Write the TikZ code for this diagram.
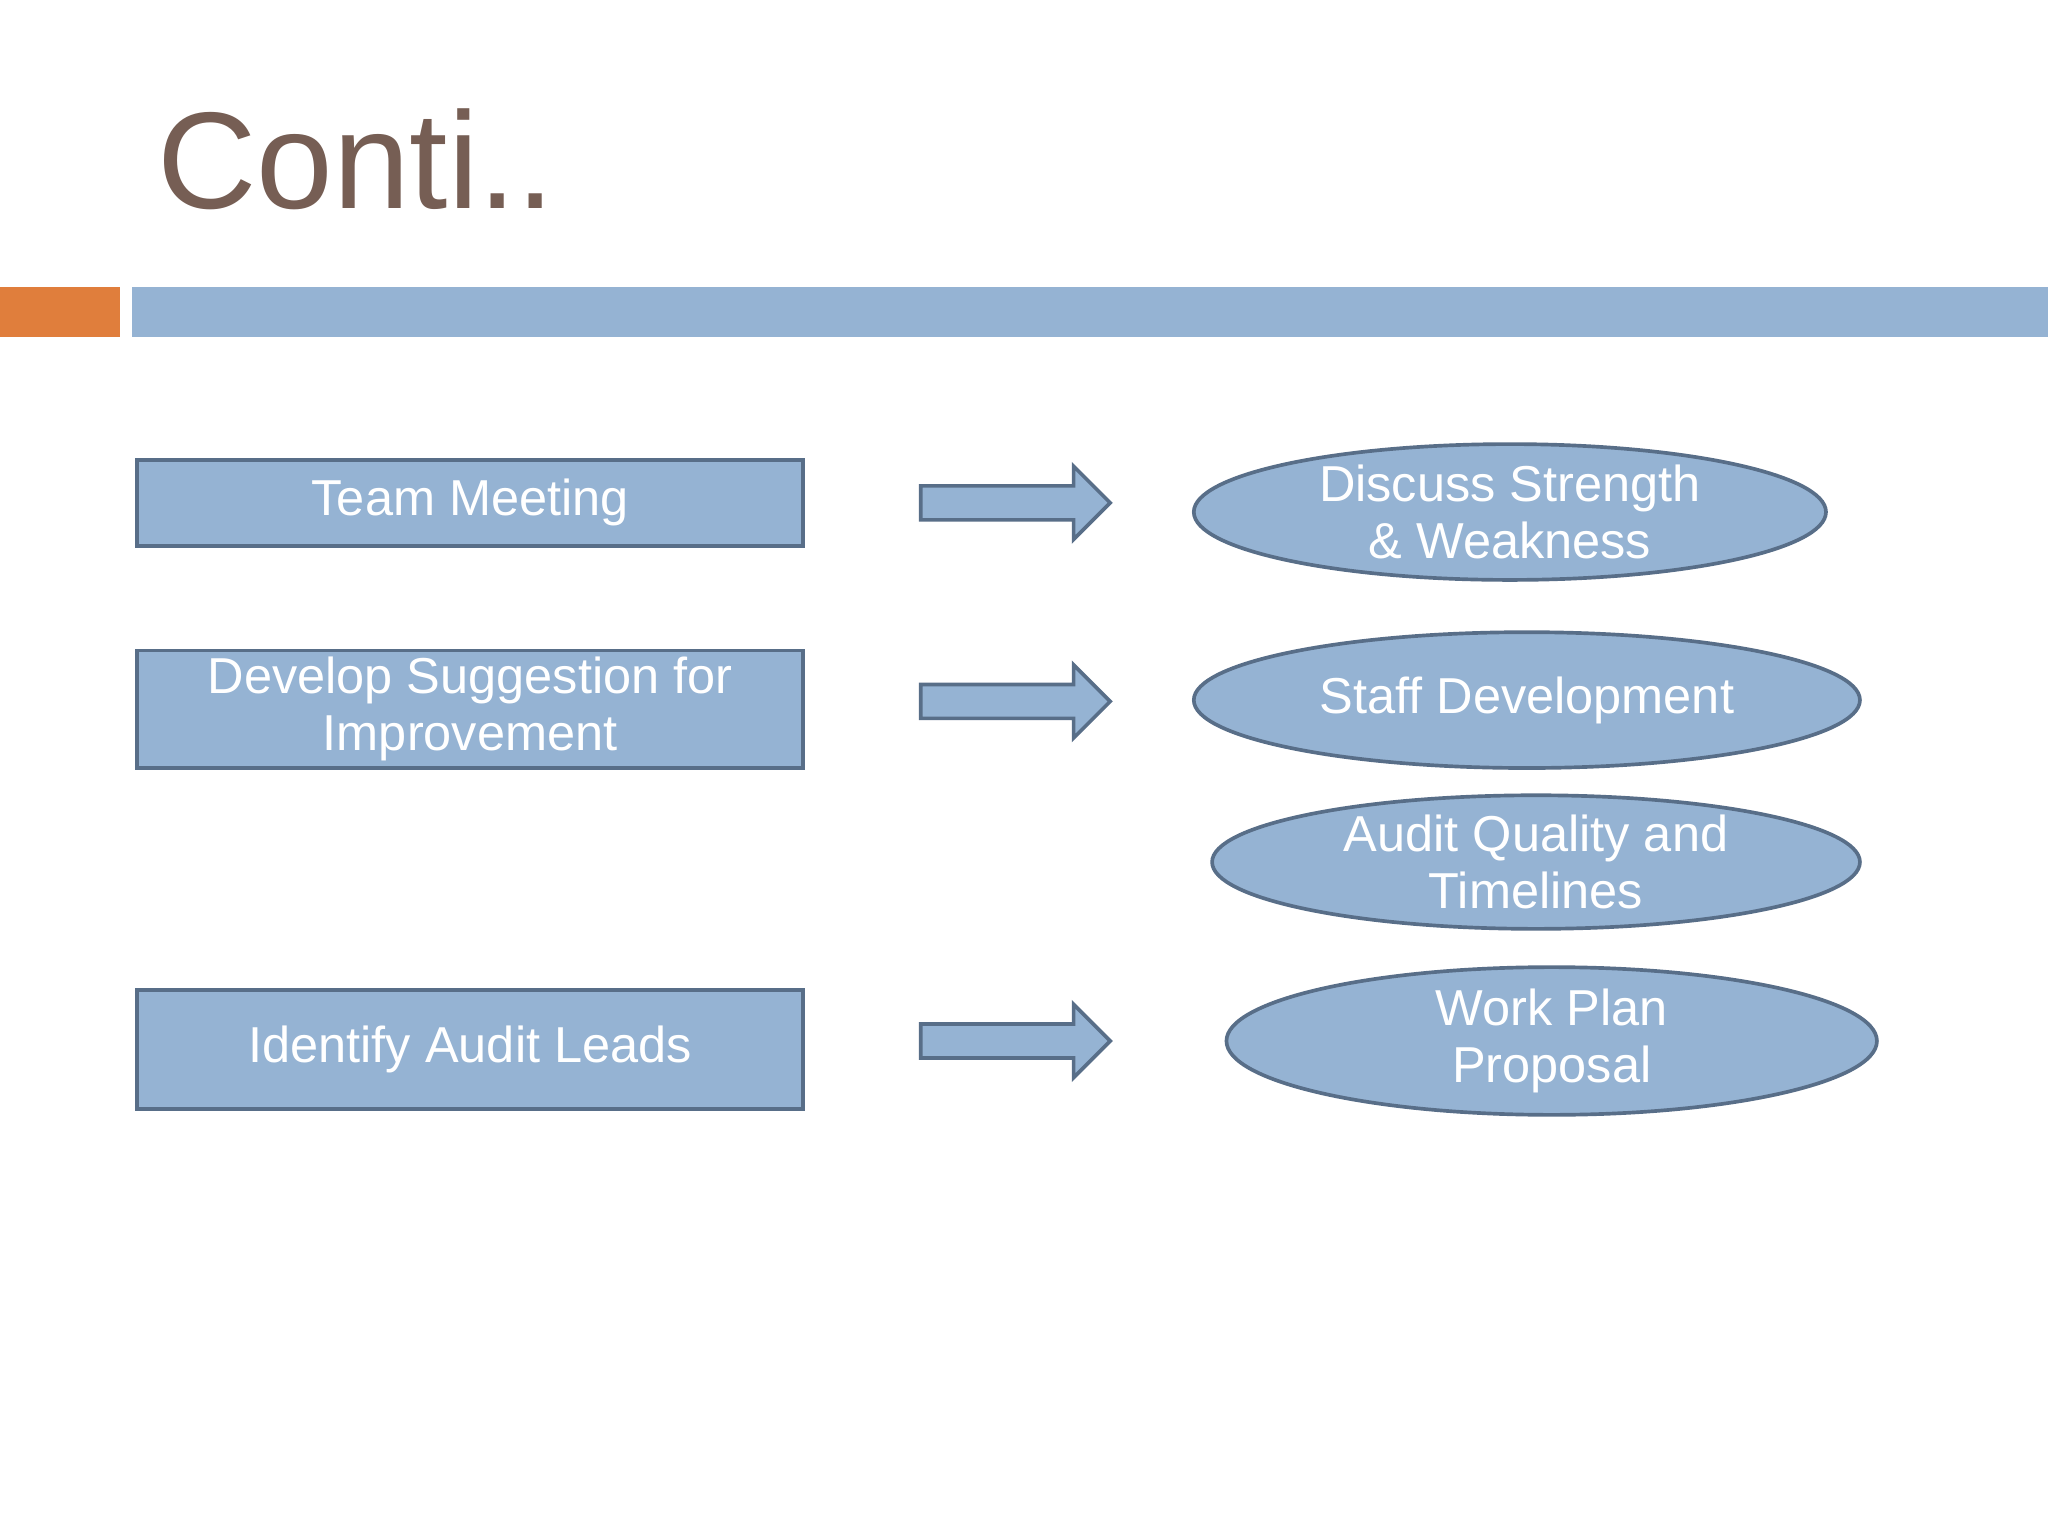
\documentclass[tikz,border=0pt]{standalone}
\usepackage{fontspec}
\setmainfont{Liberation Sans}
\usetikzlibrary{shapes.geometric}
\definecolor{boxfill}{RGB}{149,179,211}
\definecolor{boxline}{RGB}{88,110,136}
\definecolor{titlec}{RGB}{118,94,84}
\definecolor{orangec}{RGB}{224,126,60}
\tikzset{
  box/.style={draw=boxline,fill=boxfill,line width=1.6pt,minimum width=10.2cm,text=white,font=\fontsize{22}{25}\selectfont,align=center,inner sep=0pt},
  oval/.style={ellipse,draw=boxline,fill=boxfill,line width=1.6pt,text=white,font=\fontsize{22}{25}\selectfont,align=center,inner sep=0pt},
  fatarrow/.style={draw=boxline,fill=boxfill,line width=1.6pt,line join=miter}
}
\newcommand{\fatarr}[1]{\draw[fatarrow] (14.1,#1+0.26) -- (16.44,#1+0.26) -- (16.44,#1+0.56) -- (17,#1) -- (16.44,#1-0.56) -- (16.44,#1-0.26) -- (14.1,#1-0.26) -- cycle;}
\begin{document}
\begin{tikzpicture}
\useasboundingbox[fill=white] (0,0) rectangle (31.36,-23.52);
\node[anchor=base west,text=titlec,font=\fontsize{60}{60}\selectfont,inner sep=0pt] (title) at (2.4,-3.2) {Conti..};
\fill[orangec] (0,-4.4) rectangle (1.84,-5.16);
\fill[boxfill] (2.02,-4.4) rectangle (31.36,-5.16);
\node[box,minimum height=1.32cm] (a) at (7.2,-7.7) {Team Meeting};
\node[box,minimum height=1.8cm] (b) at (7.2,-10.86) {Develop Suggestion for\\Improvement};
\node[box,minimum height=1.82cm] (c) at (7.2,-16.07) {Identify Audit Leads};
\fatarr{-7.7}
\fatarr{-10.74}
\fatarr{-15.94}
\node[oval,minimum width=9.68cm,minimum height=2.08cm] (d) at (23.12,-7.84) {Discuss Strength\\\& Weakness};
\node[oval,minimum width=10.2cm,minimum height=2.08cm] (e) at (23.38,-10.72) {Staff Development};
\node[oval,minimum width=9.92cm,minimum height=1.84cm] (f) at (23.52,-13.2) {Audit Quality and\\Timelines};
\node[oval,minimum width=9.96cm,minimum height=1.84cm] (g) at (23.76,-15.94) {Work Plan\\Proposal};
\end{tikzpicture}
\end{document}
